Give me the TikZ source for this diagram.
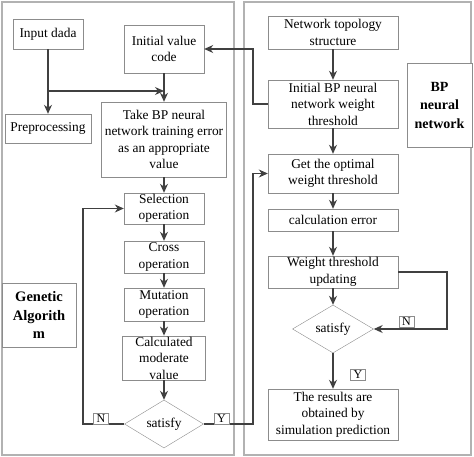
\documentclass[tikz,border=0pt]{standalone}
\usepackage{fontspec}
\setmainfont{Liberation Serif}
\usetikzlibrary{shapes.geometric,arrows.meta}
\begin{document}
\begin{tikzpicture}[x=1pt,y=-1pt,
				panel/.style={draw=black!30, line width=1.4pt},
				box/.style={draw=black!45, fill=white, align=center, inner sep=1pt, text=black,
					font=\fontsize{13.4}{16.5}\selectfont},
				title/.style={box, font=\fontsize{14.5}{18.5}\selectfont\bfseries},
				cond/.style={diamond, draw=black!45, fill=white, inner sep=0pt, text=black,
					font=\fontsize{13.4}{16.5}\selectfont},
				tag/.style={draw=black!45, fill=white, inner sep=1pt, minimum width=15pt, minimum height=11pt,
					font=\fontsize{12}{12}\selectfont},
				arr/.style={draw=black!75, line width=1.1pt, -{Stealth[length=9pt,width=8pt]}}
				]
			\useasboundingbox (0,0) rectangle (474,457);
			% the two frames
			\draw[panel] (2,2) rectangle (234,455);
			\draw[panel] (244,2) rectangle (471,455);
			% genetic algorithm side
			\node [box, minimum width=70pt, minimum height=30pt] (input) at (48,34) {Input dada};
			\node [box, minimum width=80pt, minimum height=48pt] (initcode) at (164,49) {Initial value\\code};
			\node [box, minimum width=86pt, minimum height=29pt] (prep) at (48,128.5) {Preprocessing};
			\node [box, minimum width=125pt, minimum height=75pt] (takebp) at (164,139.5) {Take BP neural\\network training error\\as an appropriate\\value};
			\node [box, minimum width=80pt, minimum height=31pt] (select) at (164,208.5) {Selection\\operation};
			\node [box, minimum width=80pt, minimum height=32pt] (cross) at (164,257) {Cross\\operation};
			\node [box, minimum width=80pt, minimum height=33pt] (mutate) at (164,304.5) {Mutation\\operation};
			\node [box, minimum width=83pt, minimum height=44pt] (moderate) at (164,358) {Calculated\\moderate\\value};
			\node [cond, minimum width=79pt, minimum height=48pt] (satga) at (164,424) {satisfy};
			\node [title, minimum width=74pt, minimum height=64pt] (ga) at (39,315) {Genetic\\Algorith\\m};
			% BP neural network side
			\node [box, minimum width=130pt, minimum height=33pt] (topo) at (333,32.5) {Network topology\\structure};
			\node [box, minimum width=130pt, minimum height=48pt] (initbp) at (333,104) {Initial BP neural\\network weight\\threshold};
			\node [title, minimum width=65pt, minimum height=84pt, font=\fontsize{14}{18.5}\selectfont\bfseries] (bpnn) at (439.5,105) {BP\\neural\\network};
			\node [box, minimum width=130pt, minimum height=39pt] (optimal) at (333,173.5) {Get the optimal\\weight threshold};
			\node [box, minimum width=130pt, minimum height=22pt] (calcerr) at (333,220) {calculation error};
			\node [box, minimum width=130pt, minimum height=32pt] (update) at (333,272) {Weight threshold\\updating};
			\node [cond, minimum width=81pt, minimum height=48pt] (satbp) at (333,329) {satisfy};
			\node [box, minimum width=130pt, minimum height=51pt] (result) at (333,414.5) {The results are\\obtained by\\simulation prediction};
			% corners of the connectors
			\coordinate (fork) at (164,91);
			\coordinate (nback) at (83,424);
			\coordinate (yturn) at (253,424);
			\coordinate (fbturn) at (253,104);
			\coordinate (nturn) at (447,272);
			% connectors
			\draw[arr] (input) -- (input.south |- prep.north);
			\draw[arr] (input.south |- fork) -- (fork);
			\draw[arr] (initcode) -- (takebp);
			\draw[arr] (takebp) -- (select);
			\draw[arr] (select) -- (cross);
			\draw[arr] (cross) -- (mutate);
			\draw[arr] (mutate) -- (moderate);
			\draw[arr] (moderate) -- (satga);
			\draw[arr] (satga.west) -- (nback) |- (select.west);
			\draw[arr] (satga.east) -- (yturn) |- (optimal.west);
			\draw[arr] (initbp.west) -- (fbturn) |- (initcode.east);
			\draw[arr] (topo) -- (initbp);
			\draw[arr] (initbp) -- (optimal);
			\draw[arr] (optimal) -- (calcerr);
			\draw[arr] (calcerr) -- (update);
			\draw[arr] (update) -- (satbp);
			\draw[arr] (satbp) -- (result);
			\draw[arr] (update.east) -- (nturn) |- (satbp.east);
			% labels
			\node [tag] (nga) at (101,418.5) {N};
			\node [tag] (yga) at (221.5,418.5) {Y};
			\node [tag] (nbp) at (406.5,322) {N};
			\node [tag] (ybp) at (358,374.5) {Y};
\end{tikzpicture}
\end{document}
